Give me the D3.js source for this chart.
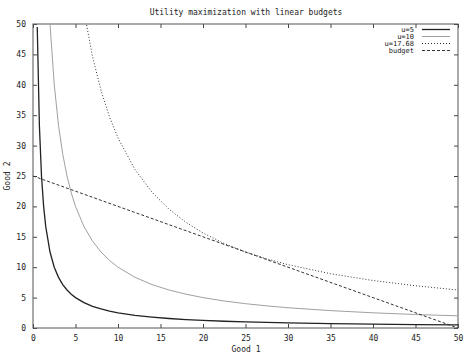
<!DOCTYPE html>
<html><head><meta charset="utf-8">
<script src="https://cdn.jsdelivr.net/npm/d3@7"></script>
<style>body{margin:0;background:#fff}svg{display:block}text{font-family:"DejaVu Sans Mono",monospace;font-size:8px;fill:#222}</style>
</head><body><svg id="c" width="474" height="355"></svg>
<script>
const title = "Utility maximization with linear budgets";
const xLabel = "Good 1", yLabel = "Good 2";
const xTicks = [0,5,10,15,20,25,30,35,40,45,50];
const yTicks = [0,5,10,15,20,25,30,35,40,45,50];
const good1 = [0.5,0.75,1,1.25,1.5,2,2.5,3,3.5,4,4.5,5,6,7,8,9,10,12,14,16,18,20,22.5,25,27.5,30,35,40,45,50];
const u5 = [49.5,33.33,25,20,16.67,12.5,10,8.33,7.14,6.25,5.56,5,4.17,3.57,3.13,2.78,2.5,2.08,1.79,1.56,1.39,1.25,1.11,1,0.91,0.83,0.71,0.63,0.56,0.5];
const u10 = [null,null,null,null,66.67,50,40,33.33,28.57,25,22.22,20,16.67,14.29,12.5,11.11,10,8.33,7.14,6.25,5.56,5,4.44,4,3.64,3.33,2.86,2.5,2.22,2];
const u1768 = [null,null,null,null,null,null,null,null,null,null,null,62.52,52.1,44.65,39.07,34.73,31.26,26.05,22.33,19.54,17.37,15.63,13.89,12.5,11.37,10.42,8.93,7.81,6.95,6.25];
const budgetX = [0,50], budgetY = [25,0];
const seriesNames = ["u=5","u=10","u=17.68","budget"];

const svg = d3.select("#c");
const L=33,R=458,T=24,B=328;
const x = d3.scaleLinear().domain([0,50]).range([L,R]);
const y = d3.scaleLinear().domain([0,50]).range([B,T]);

svg.append("defs").append("clipPath").attr("id","clip").append("rect").attr("x",L).attr("y",T).attr("width",R-L).attr("height",B-T);

const styles = [
 {stroke:"#222",w:1.3,dash:null},
 {stroke:"#a0a0a0",w:1,dash:null},
 {stroke:"#333",w:1,dash:"1,2"},
 {stroke:"#333",w:1,dash:"3,2"}
];

const ax = [
 [d3.axisBottom(x).tickValues(xTicks).tickSize(-4).tickPadding(7), `translate(0,${B})`],
 [d3.axisTop(x).tickValues(xTicks).tickSize(-4).tickFormat(""), `translate(0,${T})`],
 [d3.axisLeft(y).tickValues(yTicks).tickSize(-4).tickPadding(7), `translate(${L},0)`],
 [d3.axisRight(y).tickValues(yTicks).tickSize(-4).tickFormat(""), `translate(${R},0)`]
];
ax.forEach(([a,tr])=>{
  const g=svg.append("g").attr("transform",tr).call(a);
  g.select(".domain").remove();
  g.selectAll("line").attr("stroke","#444");
  g.selectAll("text").attr("fill","#222").style("font-family","DejaVu Sans Mono").style("font-size","8px");
});
svg.append("rect").attr("x",L).attr("y",T).attr("width",R-L).attr("height",B-T).attr("fill","none").attr("stroke","#555").attr("stroke-width",1);

const line = d3.line().defined(d=>d[1]!=null).x(d=>x(d[0])).y(d=>y(d[1]));
const data = [
  good1.map((g,i)=>[g,u5[i]]),
  good1.map((g,i)=>[g,u10[i]]),
  good1.map((g,i)=>[g,u1768[i]]),
  budgetX.map((g,i)=>[g,budgetY[i]])
];
const pg = svg.append("g").attr("clip-path","url(#clip)");
data.forEach((d,i)=>{
  pg.append("path").datum(d).attr("d",line).attr("fill","none")
    .attr("stroke",styles[i].stroke).attr("stroke-width",styles[i].w)
    .attr("stroke-dasharray",styles[i].dash);
});

seriesNames.forEach((n,i)=>{
  const yy = 29.5 + i*7;
  svg.append("text").attr("x",414).attr("y",yy+2.5).attr("text-anchor","end").style("font-size","7px").text(n);
  svg.append("line").attr("x1",422).attr("x2",450).attr("y1",yy).attr("y2",yy)
    .attr("stroke",styles[i].stroke).attr("stroke-width",styles[i].w).attr("stroke-dasharray",styles[i].dash);
});

svg.append("text").attr("x",246).attr("y",15).attr("text-anchor","middle").text(title);
svg.append("text").attr("x",246).attr("y",352).attr("text-anchor","middle").text(xLabel);
svg.append("text").attr("transform","translate(10,176) rotate(-90)").attr("text-anchor","middle").text(yLabel);
</script></body></html>
